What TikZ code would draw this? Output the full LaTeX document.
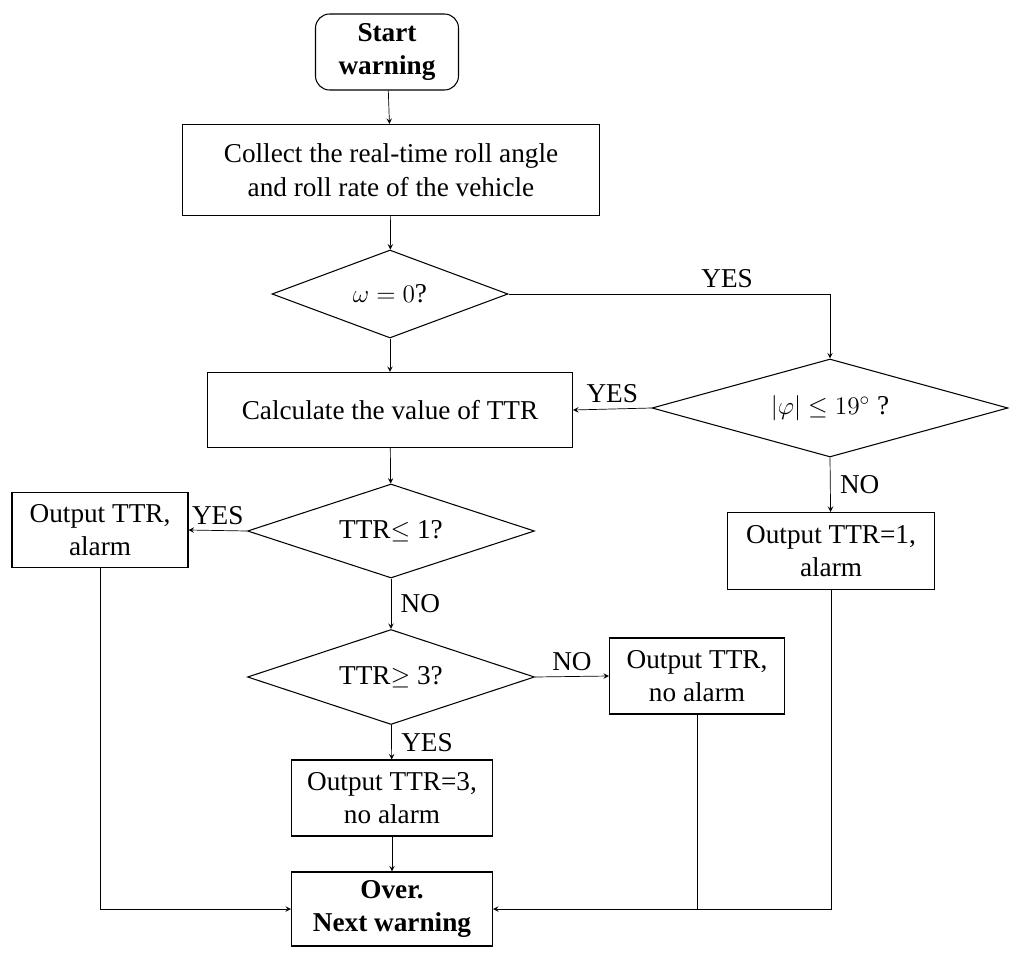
\documentclass[tikz,border=0pt]{standalone}
\usepackage{fontspec}
\setmainfont{Liberation Serif}
\usetikzlibrary{shapes,arrows,positioning}

\begin{document}
\begin{tikzpicture}
            [
                x=0.02cm, y=-0.02cm,
                every node/.style={font=\fontsize{15.5}{19}\selectfont, align=center},
                startnode/.style={rectangle, rounded corners=8pt, draw=black, semithick, minimum width=2.86cm, minimum height=1.52cm},
                boxnode/.style={rectangle, draw=black, semithick, inner sep=0pt},
                decision/.style={diamond, draw=black, semithick, inner sep=0pt},
                flow/.style={thin, ->, >=stealth},
                line/.style={thin},
            ]

            \useasboundingbox (0,0) rectangle (1025,963);

            %% NODES
            \node[startnode] (start) at(387,52) {\bfseries Start\\ \bfseries warning};
            \node[boxnode, minimum width=8.36cm, minimum height=1.82cm] (collect) at(391,170) {Collect the real-time roll angle\\and roll rate of the vehicle};
            \node[decision, minimum width=4.72cm, minimum height=1.76cm, label=center:{$\omega = 0$?}] (omega) at(390,294) {};
            \node[boxnode, minimum width=7.3cm, minimum height=1.5cm] (calc) at(390,410) {Calculate the value of TTR};
            \node[decision, minimum width=7.12cm, minimum height=1.96cm, label=center:{$|\varphi| \leq 19^{\circ}$ ?}] (phi) at(830,408) {};
            \node[decision, minimum width=5.74cm, minimum height=1.88cm, label=center:{TTR$\leq$ 1?}] (ttrone) at(391,531) {};
            \node[boxnode, minimum width=3.52cm, minimum height=1.5cm] (alarmttr) at(100,530) {Output TTR,\\alarm};
            \node[boxnode, minimum width=4.14cm, minimum height=1.54cm] (alarmone) at(831,551) {Output TTR=1,\\alarm};
            \node[decision, minimum width=5.74cm, minimum height=1.9cm, label=center:{TTR$\geq$ 3?}] (ttrthree) at(391,677) {};
            \node[boxnode, minimum width=3.5cm, minimum height=1.52cm] (noalarmttr) at(697,676) {Output TTR,\\no alarm};
            \node[boxnode, minimum width=4.02cm, minimum height=1.52cm] (noalarmthree) at(392,798) {Output TTR=3,\\no alarm};
            \node[boxnode, minimum width=4.02cm, minimum height=1.48cm] (over) at(392,909) {\bfseries Over.\\ \bfseries Next warning};

            %% CONNECTORS
            \draw[flow] (start) -- (collect);
            \draw[flow] (collect) -- (omega);
            \draw[flow] (omega) -- (calc);
            \draw[flow] (omega.east) -| node[pos=0.34, above] {YES} (phi.north);
            \draw[flow] (phi.west) -- node[above] {YES} (calc.east);
            \draw[flow] (phi.south) -- node[right=2pt] {NO} (alarmone);
            \draw[flow] (calc) -- (ttrone);
            \draw[flow] (ttrone.west) -- node[above] {YES} (alarmttr.east);
            \draw[flow] (ttrone) -- node[right=2pt] {NO} (ttrthree);
            \draw[flow] (ttrthree.east) -- node[above] {NO} (noalarmttr.west);
            \draw[flow] (ttrthree) -- node[right=2pt] {YES} (noalarmthree);
            \draw[flow] (noalarmthree) -- (over);

            %% RETURN LINES
            \draw[flow] (alarmttr.south) |- (over.west);
            \draw[flow] (alarmone.south) |- (over.east);
            \coordinate (join) at (noalarmttr.south |- over.east);
            \draw[line] (noalarmttr.south) -- (join);

        \end{tikzpicture}
\end{document}
